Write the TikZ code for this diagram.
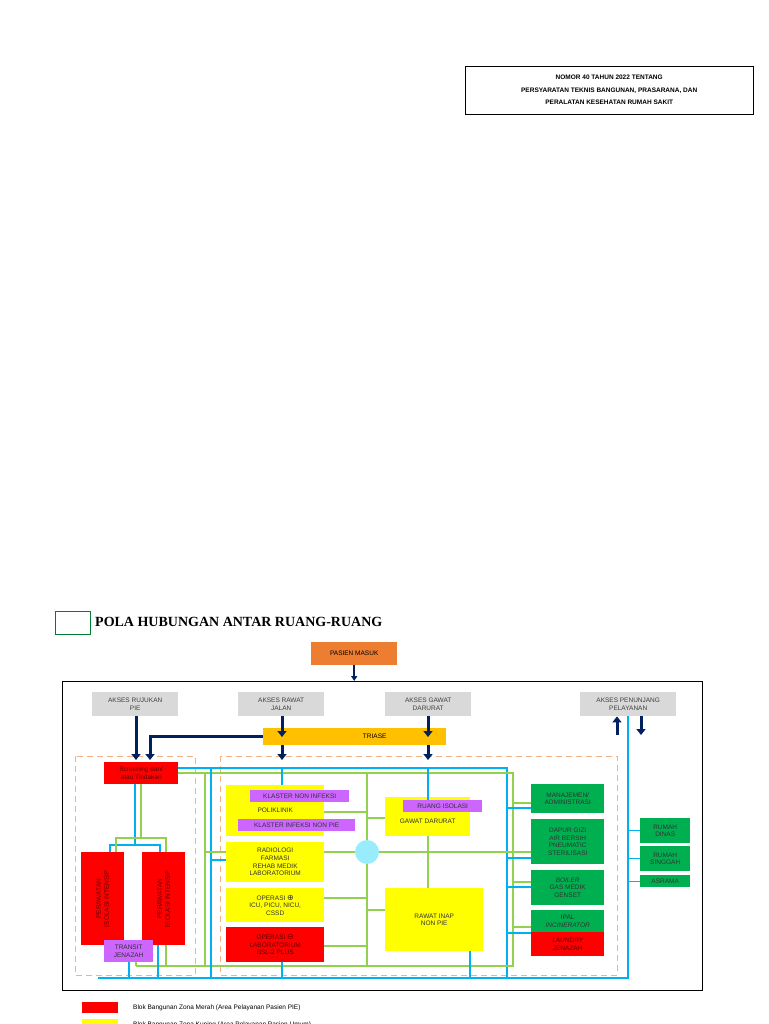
\documentclass[tikz,border=0pt]{standalone}
\usepackage{fontspec}
\setmainfont{Liberation Sans}
\newfontfamily\djv{DejaVu Sans}
\usetikzlibrary{arrows.meta}
\definecolor{cred}{HTML}{FF0000}\definecolor{cyel}{HTML}{FFFF00}
\definecolor{ctri}{HTML}{FFC000}\definecolor{corg}{HTML}{ED7D31}
\definecolor{cgrn}{HTML}{00B050}\definecolor{cvio}{HTML}{CC66FF}
\definecolor{cgry}{HTML}{D9D9D9}\definecolor{cnav}{HTML}{002060}
\definecolor{cblu}{HTML}{00B0F0}\definecolor{clgr}{HTML}{92D050}
\definecolor{cdsh}{HTML}{F4B183}
\begin{document}
\begin{tikzpicture}[x=1pt,y=-1pt,
 bx/.style={anchor=north west,inner sep=0,align=center,font=\fontsize{6.5}{7.7}\selectfont},
 rbox/.style={bx,fill=cred,text=black!60!red},
 ybox/.style={bx,fill=cyel,text=black!80},
 gbox/.style={bx,fill=cgrn,text=black!80},
 vbox/.style={bx,fill=cvio,text=black!80},
 gray/.style={bx,fill=cgry,text=black!75},
 nav/.style={cnav,line width=3pt,-{Triangle[length=6pt,width=9pt]}},
 bl/.style={cblu,line width=1.2pt},
 gl/.style={clgr,line width=1.2pt},
 dsh/.style={cdsh,line width=1pt,dash pattern=on 6pt off 4pt}]
\useasboundingbox (0,0) rectangle (768,1024);
\clip (0,0) rectangle (768,1024);
% header
\node[draw,bx,minimum width=288,minimum height=48,font=\bfseries\fontsize{6.5}{12.5}\selectfont] (hdr) at (465,66) {NOMOR 40 TAHUN 2022 TENTANG\\PERSYARATAN TEKNIS BANGUNAN, PRASARANA, DAN\\PERALATAN KESEHATAN RUMAH SAKIT};
\node[draw=cgrn!70!black,bx,minimum width=35,minimum height=23] (sq) at (55,611) {};
\node[anchor=west,inner sep=0,font=\fontspec{Liberation Serif}\bfseries\fontsize{14}{15}\selectfont] (ttl) at (95,622) {POLA HUBUNGAN ANTAR RUANG-RUANG};
% frame
\node[draw,bx,minimum width=640,minimum height=309,line width=0.8pt] (frm) at (62,681) {};
\node[bx,fill=corg,minimum width=86,minimum height=23] (pm) at (311,642) {PASIEN MASUK};
\draw[cnav,line width=1.5pt,-{Triangle[length=5pt,width=6pt]}] (pm.south) -- (pm.south|-frm.north);
% dashed zones
\draw[dsh] (75,756) rectangle (195,975);
\draw[dsh] (220,756) rectangle (617,975);
% gray access
\node[gray,minimum width=86,minimum height=24] (ar) at (92,692) {AKSES RUJUKAN\\PIE};
\node[gray,minimum width=86,minimum height=24] (aj) at (238,692) {AKSES RAWAT\\JALAN};
\node[gray,minimum width=86,minimum height=24] (ag) at (385,692) {AKSES GAWAT\\DARURAT};
\node[gray,minimum width=96,minimum height=24] (ap) at (580,692) {AKSES PENUNJANG\\PELAYANAN};
\node[bx,fill=ctri,minimum width=183,minimum height=17] (tr) at (263,728) {\hspace*{40pt}TRIASE};
% boxes
\node[rbox,minimum width=74,minimum height=22] (scr) at (104,762) {Screening dan/\\atau Tindakan};
\node[rbox,minimum width=43,minimum height=93] (p1) at (81,852) {};
\node[rotate=90,align=center,font=\fontsize{6.5}{8}\selectfont,text=black!60!red] at (p1.center) {PERAWATAN\\ISOLASI INTENSIF};
\node[rbox,minimum width=43,minimum height=93] (p2) at (142,852) {};
\node[rotate=90,align=center,font=\fontsize{6.5}{8}\selectfont,text=black!60!red] at (p2.center) {PERAWATAN\\ISOLASI INTENSIF};
% lines left
\draw[bl] (scr.east|-0,768) -- (507,768) -- (507,978);
\draw[gl] (scr.east|-0,773) -- (513,773) -- (513,966) -- (136,966);
\draw[bl] (98,978) -- (628,978) -- (628,0|-ap.south);
\draw[bl] (211,768) -- (211,978);
\draw[gl] (205,773) -- (205,966);
\draw[bl] (135,784) -- (135,845) (110,852) -- (110,845) -- (160,845) -- (160,852);
\draw[gl] (141,784) -- (141,838) (116,852) -- (116,838) -- (166,838) -- (166,852);
\draw[bl] (129,962) -- (129,978) (158,945) -- (158,978);
\draw[gl] (136,962) -- (136,966) (166,945) -- (166,966);
\node[vbox,minimum width=49,minimum height=22] (tj) at (104,940) {TRANSIT\\JENAZAH};
% center cluster
\node[ybox,minimum width=98,minimum height=51] (pol) at (226,785) {POLIKLINIK};
\node[vbox,minimum width=99,minimum height=12] (k1) at (250,790) {KLASTER NON INFEKSI};
\node[vbox,minimum width=117,minimum height=12] (k2) at (238,819) {KLASTER INFEKSI NON PIE};
\node[ybox,minimum width=98,minimum height=40] (rad) at (226,842) {RADIOLOGI\\FARMASI\\REHAB MEDIK\\LABORATORIUM};
\node[ybox,minimum width=98,minimum height=34] (op1) at (226,888) {OPERASI {\djv\fontsize{8}{8}\selectfont ⊕}\\ICU, PICU, NICU,\\CSSD};
\node[rbox,minimum width=98,minimum height=35] (op2) at (226,927) {OPERASI {\djv\fontsize{8}{8}\selectfont ⊖}\\LABORATORIUM\\BSL-2 PLUS};
\node[ybox,minimum width=85,minimum height=39] (gd) at (385,797) {\\[6pt]GAWAT DARURAT};
\node[vbox,minimum width=79,minimum height=12] (ri) at (403,800) {RUANG ISOLASI};
\node[ybox,minimum width=98,minimum height=63] (rin) at (385,888) {RAWAT INAP\\NON PIE};
\node[circle,fill=cblu!60!cyan!40,minimum size=24,inner sep=0] (cc) at (367,852) {};
\draw[gl] (367,773) -- (cc.north) (cc.south) -- (367,966);
\draw[gl] (pol.east|-0,812) -- (367,812) (cc.west) -- (rad.east|-cc) (op1.east|-0,898) -- (367,898) (op2.east|-0,946) -- (367,946);
\draw[gl] (367,818) -- (gd.west|-0,818) (367,910) -- (rin.west|-0,910);
\draw[gl] (gd.south-|428,0) -- (rin.north-|428,0);
\draw[bl] (428,768) -- (ri.north-|428,0) (282,768) -- (pol.north-|282,0) (op2.south-|282,0) -- (282,978) (rin.south-|470,0) -- (470,978);
\draw[gl] (205,852) -- (rad.west|-0,852);
\draw[bl] (211,860) -- (rad.west|-0,860);
% green boxes
\node[gbox,minimum width=73,minimum height=29] (mj) at (531,784) {MANAJEMEN/\\ADMINISTRASI};
\node[gbox,minimum width=73,minimum height=45] (dp) at (531,819) {DAPUR GIZI\\AIR BERSIH\\PNEUMATIC\\STERILISASI};
\node[gbox,minimum width=73,minimum height=35] (bo) at (531,870) {\itshape BOILER\\GAS MEDIK\\GENSET};
\node[gbox,minimum width=73,minimum height=22] (ip) at (531,910) {IPAL\\\itshape INCINERATOR};
\node[rbox,minimum width=73,minimum height=24] (la) at (531,932) {\itshape LAUNDRY\\JENAZAH};
\draw[gl] (cc.east) -- (dp.west|-cc);
\draw[gl] (513,803) -- (mj.west|-0,803) (513,882) -- (bo.west|-0,882) (513,927) -- (ip.west|-0,927);
\draw[bl] (507,808) -- (mj.west|-0,808) (507,858) -- (dp.west|-0,858) (507,887) -- (bo.west|-0,887) (507,933) -- (ip.west|-0,933);
\node[gbox,minimum width=50,minimum height=25] (rd) at (640,818) {RUMAH\\DINAS};
\node[gbox,minimum width=50,minimum height=25] (rs) at (640,846) {RUMAH\\SINGGAH};
\node[gbox,minimum width=50,minimum height=12] (as) at (640,875) {ASRAMA};
\draw[bl] (628,0|-rd.west) -- (rd.west) (628,0|-rs.west) -- (rs.west) (628,0|-as.west) -- (as.west);
% navy arrows
\draw[nav] (ar.south-|136,0) -- (136,760);
\draw[nav] (tr.west|-0,736) -- (150,736) -- (150,760);
\draw[nav] (aj.south-|282,0) -- (282,737);
\draw[nav] (tr.south-|282,0) -- (282,760);
\draw[nav] (ag.south-|428,0) -- (428,737);
\draw[nav] (tr.south-|428,0) -- (428,760);
\draw[nav] (617,735) -- (617,0|-ap.south);
\draw[nav] (641,0|-ap.south) -- (641,735);
% legend
\node[bx,fill=cred,minimum width=36,minimum height=11] (l1) at (82,1002) {};
\node[anchor=west,inner sep=0,font=\fontsize{6.5}{7}\selectfont] (t1) at (133,1008) {Blok Bangunan Zona Merah (Area Pelayanan Pasien PIE)};
\node[bx,fill=cyel,minimum width=36,minimum height=11] (l2) at (82,1019) {};
\node[anchor=west,inner sep=0,font=\fontsize{6.5}{7}\selectfont] (t2) at (133,1025) {Blok Bangunan Zona Kuning (Area Pelayanan Pasien Umum)};
\end{tikzpicture}
\end{document}
